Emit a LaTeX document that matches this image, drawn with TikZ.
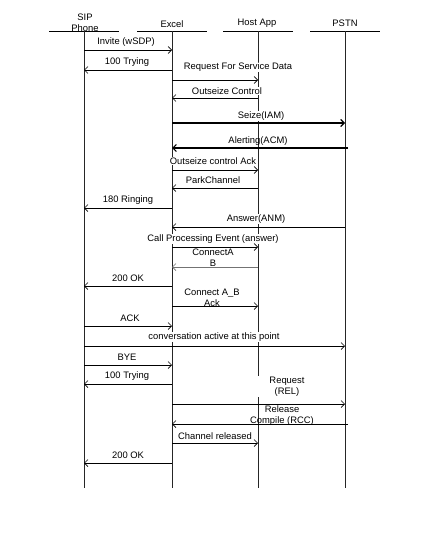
\documentclass[tikz,border=0pt]{standalone}
\usepackage{fontspec}
\setmainfont{Liberation Sans}
\usetikzlibrary{arrows.meta}
\begin{document}
\begin{tikzpicture}[x=1pt,y=-1pt,
  life/.style={line width=0.7pt,draw=black!85},
  head/.style={line width=0.8pt},
  msg/.style={line width=0.7pt,-{Straight Barb[length=3.5pt,width=7pt]}},
  bold/.style={line width=1.2pt},
  lbl/.style={font=\fontsize{9.4}{11}\selectfont,fill=white,inner sep=0.6pt,align=center},
  plain/.style={font=\fontsize{9.4}{11}\selectfont,inner sep=0.6pt,align=center},
  title/.style={font=\fontsize{9.4}{11}\selectfont,inner sep=0pt,align=center}]
\useasboundingbox[fill=white] (0,0) rectangle (431,538);
% headers
\node[title] (sipT) at (85,23) {SIP\\Phone};
\node[title] (excT) at (172,24) {Excel};
\node[title] (hostT) at (257,23) {Host App};
\node[title] (pstnT) at (345,23) {PSTN};
\draw[head] (49,31) -- (119,31);
\draw[head] (137,31) -- (207,31);
\draw[head] (223,31) -- (293,31);
\draw[head] (310,31) -- (380,31);
% lifelines
\coordinate (sip) at (84,31);  \coordinate (sipE) at (84,488);
\coordinate (exc) at (172,31); \coordinate (excE) at (172,488);
\coordinate (host) at (258,31);\coordinate (hostE) at (258,488);
\coordinate (pstn) at (345,31);\coordinate (pstnE) at (345,488);
\coordinate (pstnX) at (348,31);
\draw[life] (sip) -- (sipE);
\draw[life] (exc) -- (excE);
\draw[life] (host) -- (hostE);
\draw[life] (pstn) -- (pstnE);
% labels
\node[lbl] (l1) at (126,42) {Invite (wSDP)};
\node[lbl] (l2) at (127,62) {100 Trying};
\node[lbl] (l3) at (238,67) {Request For Service Data};
\node[lbl] (l4) at (227,91) {Outseize Control};
\node[lbl] (l5) at (261,116) {Seize(IAM)};
\node[plain] (l6) at (258,141) {Alerting(ACM)};
\node[lbl] (l7) at (213,161) {Outseize control Ack};
\node[lbl] (l8) at (213,180) {ParkChannel};
\node[lbl] (l9) at (128,200) {180 Ringing};
\node[lbl] (l10) at (256,219) {Answer(ANM)};
\node[lbl] (l11) at (213,239) {Call Processing Event (answer)};
\node[lbl] (l12) at (213,258) {ConnectA\\B};
\node[lbl] (l13) at (128,278) {200 OK};
\node[lbl] (l14) at (212,297.5) {Connect A\_B\\Ack};
\node[lbl] (l15) at (130,318) {ACK};
\node[lbl] (l16) at (214,337) {conversation active at this point};
\node[lbl] (l17) at (127,357) {BYE};
\node[lbl] (l18) at (127,376) {100 Trying};
\node[lbl,text width=64pt] (l19) at (287,386.5) {Request\\(REL)};
\node[plain] (l20) at (282,416) {Release\\Compile (RCC)};
\node[lbl] (l21) at (215,436) {Channel released};
\node[lbl] (l22) at (128,455) {200 OK};
% messages
\draw[msg] (sip |- 0,50) -- (exc |- 0,50);
\draw[msg] (exc |- 0,70) -- (sip |- 0,70);
\draw[msg] (exc |- 0,80) -- (host |- 0,80);
\draw[msg] (host |- 0,98) -- (exc |- 0,98);
\draw[msg,bold] (exc |- 0,123) -- (pstn |- 0,123);
\draw[msg,bold] (pstnX |- 0,148) -- (exc |- 0,148);
\draw[msg] (exc |- 0,170) -- (host |- 0,170);
\draw[msg] (host |- 0,188) -- (exc |- 0,188);
\draw[msg] (exc |- 0,208) -- (sip |- 0,208);
\draw[msg] (pstn |- 0,227) -- (exc |- 0,227);
\draw[msg] (exc |- 0,247) -- (host |- 0,247);
\draw[msg,draw=black!55] (host |- 0,267) -- (exc |- 0,267);
\draw[msg] (exc |- 0,286) -- (sip |- 0,286);
\draw[msg] (exc |- 0,306) -- (host |- 0,306);
\draw[msg] (sip |- 0,326) -- (exc |- 0,326);
\draw[msg] (sip |- 0,346) -- (pstn |- 0,346);
\draw[msg] (sip |- 0,365) -- (exc |- 0,365);
\draw[msg] (exc |- 0,384) -- (sip |- 0,384);
\draw[msg] (exc |- 0,404) -- (pstn |- 0,404);
\draw[msg] (pstnX |- 0,424) -- (exc |- 0,424);
\draw[msg] (exc |- 0,443) -- (host |- 0,443);
\draw[msg] (exc |- 0,463) -- (sip |- 0,463);
\end{tikzpicture}
\end{document}
